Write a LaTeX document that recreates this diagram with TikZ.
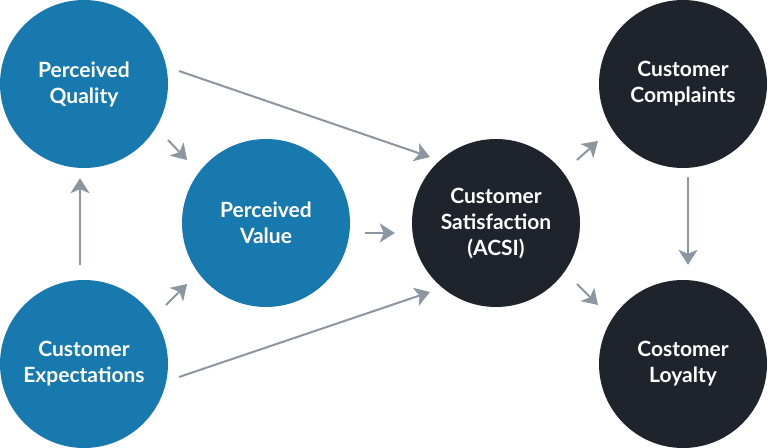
\documentclass[tikz,border=0pt]{standalone}
\usepackage{fontspec}
\setmainfont{Lato}
\usetikzlibrary{arrows.meta}
\definecolor{acsiblue}{HTML}{1879AE}
\definecolor{acsidark}{HTML}{1F232B}
\definecolor{acsigray}{HTML}{8C96A0}
\tikzset{
  factor/.style={circle, minimum size=168pt, inner sep=0pt, text=white,
    align=center, font=\bfseries\fontsize{21}{26}\selectfont},
  bluefactor/.style={factor, fill=acsiblue},
  darkfactor/.style={factor, fill=acsidark},
  flow/.style={draw=acsigray, line width=2pt,
    -{Stealth[length=15pt,width=19pt,inset=4pt]}}
}

\begin{document}
\begin{tikzpicture}[x=1pt,y=-1pt]
      \useasboundingbox (0,0) rectangle (768,447);
      % Drivers (blue)
      \node[bluefactor] (pq) at (84,84) {Perceived\\Quality};
      \node[bluefactor] (ce) at (84,364) {Customer\\Expectations};
      \node[bluefactor] (pv) at (266,223) {Perceived\\Value};
      % Satisfaction and outcomes (dark)
      \node[darkfactor] (cs) at (496,223) {Customer\\Satisfaction\\(ACSI)};
      \node[darkfactor] (cc) at (683,84) {Customer\\Complaints};
      \node[darkfactor] (cl) at (683,364) {Costomer\\Loyalty};
      % Arrows into Perceived Quality and Perceived Value
      \draw[flow, shorten <=15pt, shorten >=10pt] ([xshift=-4pt]ce.north) -- ([xshift=-4pt]pq.south);
      \draw[flow] ([shift={(84,56)}]pq.center) -- ([shift={(-79,-63)}]pv.center);
      \draw[flow] ([shift={(82,-59)}]ce.center) -- ([shift={(-79,61)}]pv.center);
      % Arrows into Customer Satisfaction
      \draw[flow] ([shift={(95,-13)}]pq.center) -- ([shift={(-66,-66)}]cs.center);
      \draw[flow] ([shift={(95,13)}]ce.center) -- ([shift={(-66,69)}]cs.center);
      \draw[flow, shorten <=15pt, shorten >=17pt] ([yshift=-10pt]pv.east) -- ([yshift=-10pt]cs.west);
      % Arrows out of Customer Satisfaction
      \draw[flow] ([shift={(81,-63)}]cs.center) -- ([shift={(-85,57)}]cc.center);
      \draw[flow] ([shift={(81,61)}]cs.center) -- ([shift={(-85,-59)}]cl.center);
      \draw[flow, shorten <=9pt, shorten >=15pt] ([xshift=5pt]cc.south) -- ([xshift=5pt]cl.north);
    \end{tikzpicture}
\end{document}
